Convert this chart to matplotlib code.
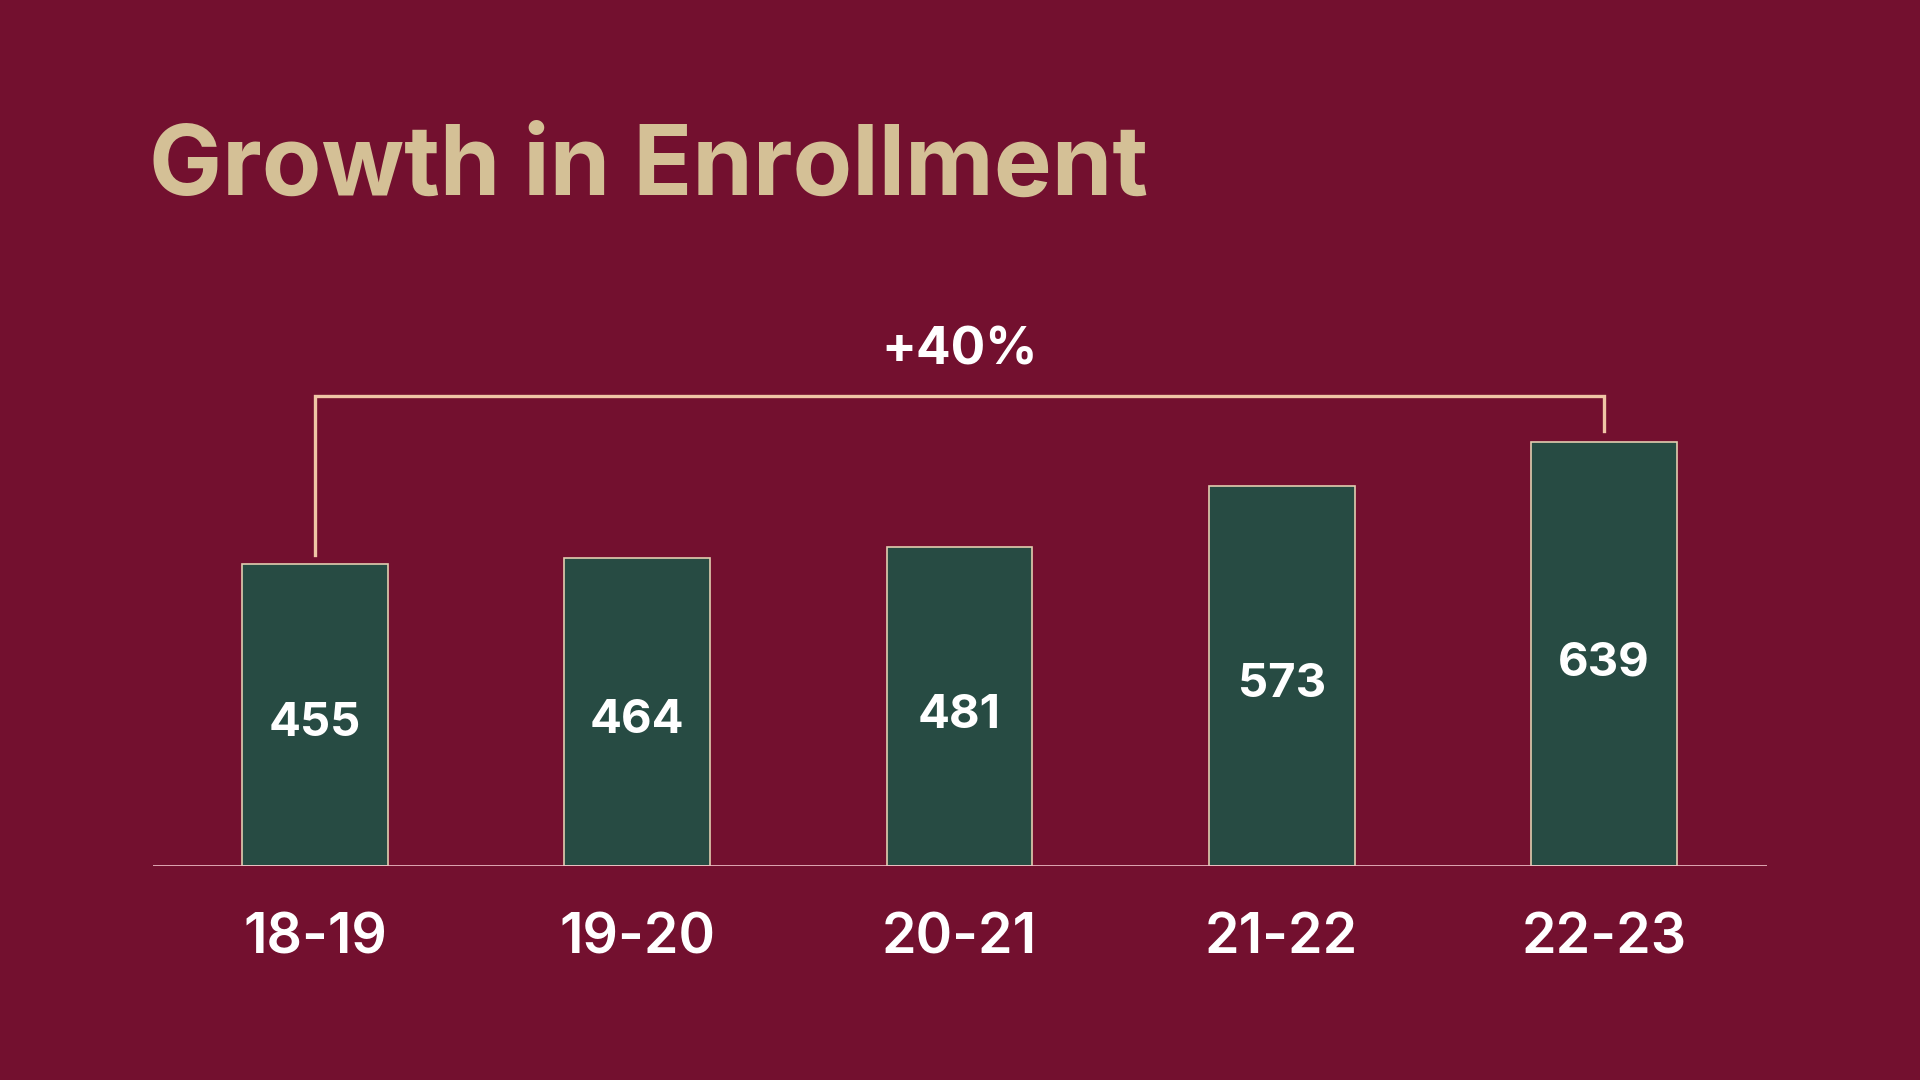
import matplotlib
matplotlib.use("Agg")
import matplotlib.pyplot as plt
from matplotlib.transforms import offset_copy

# data
years = ["18-19", "19-20", "20-21", "21-22", "22-23"]
enrollment = [455, 464, 481, 573, 639]
growth_label = "+40%"
title = "Growth in Enrollment"

# colours
bg = "#73102f"
gold = "#d4c096"
bar_fill = "#274b43"
bar_edge = "#e2cdb0"
bracket_col = "#f0c6a6"
white = "#ffffff"

plt.rcParams["font.family"] = ["Inter", "DejaVu Sans"]

fig = plt.figure(figsize=(19.2, 10.8), dpi=100, facecolor=bg)
# axes: baseline at y=866px, x from 153 to 1767px
ax = fig.add_axes([153 / 1920, (1080 - 866) / 1080, (1767 - 153) / 1920, 566 / 1080])
ax.set_facecolor(bg)
ax.set_xlim(-0.503, 4.506)
ax.set_ylim(0, 854)
for s in ax.spines.values():
    s.set_visible(False)
ax.set_xticks([])
ax.set_yticks([])

x = list(range(len(years)))
ax.bar(x, enrollment, width=0.453, color=bar_fill, edgecolor=bar_edge, linewidth=1.2, zorder=2)
ax.axhline(0, color="#f0c0c8", lw=1.2, zorder=3)

# value labels inside the bars (a touch below the middle)
val_tr = offset_copy(ax.transData, fig=fig, x=0, y=-4, units="dots")
for i, v in zip(x, enrollment):
    ax.text(i, v / 2, str(v), ha="center", va="center_baseline", color=white,
            fontsize=34, fontweight="bold", zorder=4, transform=val_tr)

# year labels under the baseline
lab_tr = offset_copy(ax.transData, fig=fig, x=0, y=-87, units="dots")
for i, y in zip(x, years):
    ax.text(i, 0, y, ha="center", va="baseline", color=white,
            fontsize=40, fontweight="semibold", transform=lab_tr)

# bracket from first to last bar
top = 709
gap = 15
ax.plot([x[0], x[0], x[-1], x[-1]],
        [enrollment[0] + gap, top, top, enrollment[-1] + gap + 3],
        color=bracket_col, lw=2.4, solid_joinstyle="miter", zorder=3)
ax.text((x[0] + x[-1]) / 2, 777, growth_label, ha="center", va="center",
        color=white, fontsize=37, fontweight="bold")

fig.text(149 / 1920, 1 - 195 / 1080, title, ha="left", va="baseline",
         color=gold, fontsize=70, fontweight="bold")

fig.savefig("out.png", dpi=100, facecolor=bg)
